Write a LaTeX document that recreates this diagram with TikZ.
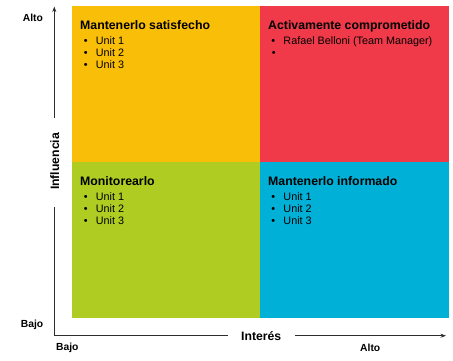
\documentclass[tikz,border=0pt]{standalone}
\usepackage{fontspec}
\setmainfont{Liberation Sans}
\usetikzlibrary{arrows.meta}
\definecolor{qyellow}{RGB}{249,190,8}
\definecolor{qred}{RGB}{240,58,74}
\definecolor{qgreen}{RGB}{174,204,34}
\definecolor{qblue}{RGB}{0,176,214}
\definecolor{axiscol}{RGB}{45,45,45}
\newcommand\bul{\llap{\textbullet\hspace{8.3pt}}}
\tikzset{
  quad/.style={draw=none, anchor=north west, inner sep=0pt, minimum height=156pt},
  qtitle/.style={anchor=base west, inner sep=0pt, font=\fontsize{12.3}{14}\selectfont\bfseries},
  qitem/.style={anchor=base west, inner sep=0pt, font=\fontsize{10.8}{13}\selectfont},
  axlabel/.style={anchor=base west, inner sep=0pt, font=\fontsize{10.3}{12}\selectfont\bfseries},
  axtitle/.style={inner sep=0pt, font=\fontsize{12.2}{14}\selectfont\bfseries},
  axline/.style={draw=axiscol, line width=0.85pt},
  axarrow/.style={axline, -{Stealth[length=5.5pt,width=4pt]}}
}
\begin{document}
\begin{tikzpicture}[x=1pt,y=-1pt]
\useasboundingbox (0,0) rectangle (453,360);
% quadrants
\node[quad, fill=qyellow, minimum width=188pt] (qtl) at (72,6) {};
\node[quad, fill=qred, minimum width=189pt] (qtr) at (260,6) {};
\node[quad, fill=qgreen, minimum width=188pt] (qbl) at (72,162) {};
\node[quad, fill=qblue, minimum width=189pt] (qbr) at (260,162) {};
% top-left
\node[qtitle] (t1) at (80,29.3) {Mantenerlo satisfecho};
\node[qitem] (t1a) at (95.7,44) {\bul Unit 1};
\node[qitem] (t1b) at (95.7,56.3) {\bul Unit 2};
\node[qitem] (t1c) at (95.7,68.6) {\bul Unit 3};
% top-right
\node[qtitle] (t2) at (268,29.3) {Activamente comprometido};
\node[qitem] (t2a) at (283.3,44) {\bul Rafael Belloni (Team Manager)};
\node[qitem] (t2b) at (283.3,56.3) {\bul};
% bottom-left
\node[qtitle] (t3) at (80,185.5) {Monitorearlo};
\node[qitem] (t3a) at (95.7,200) {\bul Unit 1};
\node[qitem] (t3b) at (95.7,212.3) {\bul Unit 2};
\node[qitem] (t3c) at (95.7,224.6) {\bul Unit 3};
% bottom-right
\node[qtitle] (t4) at (268,185.5) {Mantenerlo informado};
\node[qitem] (t4a) at (283.3,200) {\bul Unit 1};
\node[qitem] (t4b) at (283.3,212.3) {\bul Unit 2};
\node[qitem] (t4c) at (283.3,224.6) {\bul Unit 3};
% axes
\coordinate (vtop) at (54.3,6.5);
\coordinate (vup) at (54.3,118);
\coordinate (vlow) at (54.3,207);
\coordinate (orig) at (54.3,335.7);
\coordinate (hleft) at (228,335.7);
\coordinate (hright) at (295,335.7);
\coordinate (hend) at (446,335.7);
\draw[axarrow] (vup) -- (vtop);
\draw[axline] (vlow) -- (orig) -- (hleft);
\draw[axarrow] (hright) -- (hend);
\node[axtitle, rotate=90, anchor=base] (infl) at (59,161.5) {Influencia};
\node[axtitle, anchor=base west] (inter) at (241,340) {Interés};
\node[axlabel] (altoy) at (22.7,21.5) {Alto};
\node[axlabel] (bajoy) at (20.7,327.7) {Bajo};
\node[axlabel] (bajox) at (56,350.5) {Bajo};
\node[axlabel] (altox) at (360,351) {Alto};
\end{tikzpicture}
\end{document}
